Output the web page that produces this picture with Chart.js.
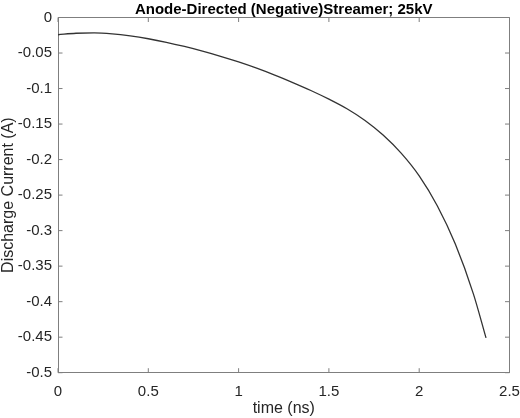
<!DOCTYPE html>
<html>
<head>
<meta charset="utf-8">
<script src="https://cdn.jsdelivr.net/npm/chart.js@4.4.1/dist/chart.umd.min.js"></script>
<style>
  html, body { margin: 0; padding: 0; background: #fff; }
  #wrap { width: 520px; height: 418px; }
</style>
</head>
<body>
<div id="wrap"><canvas id="my-chart" width="520" height="418"></canvas></div>
<script>
'use strict'
///data///
let timeNs = [0, 0.1, 0.2, 0.3, 0.4, 0.5, 0.6, 0.7, 0.8, 0.9, 1.0, 1.1, 1.2, 1.3, 1.4, 1.5, 1.6, 1.7, 1.8, 1.9, 2.0, 2.1, 2.2, 2.3, 2.37]
let currentA = [-0.0243, -0.0222, -0.0216, -0.0230, -0.0259, -0.0299, -0.0349, -0.0408, -0.0474, -0.0546, -0.0625, -0.0713, -0.0810, -0.0916, -0.1028, -0.1150, -0.1285, -0.1450, -0.1655, -0.1910, -0.2230, -0.2650, -0.3190, -0.3890, -0.4510]
let xTicks = [0, 0.5, 1, 1.5, 2, 2.5]
let yTicks = [0, -0.05, -0.1, -0.15, -0.2, -0.25, -0.3, -0.35, -0.4, -0.45, -0.5]
let titleText = 'Anode-Directed (Negative)Streamer; 25kV'

let axisColor = '#7f7f7f'
let textColor = '#262626'
let fontFam = '"Liberation Sans", Arial, Helvetica, sans-serif'

let points = []
for (let i = 0; i < timeNs.length; i++) {
  points.push({x: timeNs[i], y: currentA[i]})
}

//matlab style box + inward ticks + title centred over the axes
let boxPlugin = {
  id: 'box',
  afterDraw(chart) {
    let c = chart.ctx
    let a = chart.chartArea
    let xs = chart.scales.x
    let ys = chart.scales.y
    let len = 4.5
    c.save()
    c.strokeStyle = axisColor
    c.lineWidth = 1
    c.beginPath()
    c.moveTo(a.left, a.top); c.lineTo(a.right, a.top)
    c.moveTo(a.right, a.top); c.lineTo(a.right, a.bottom)
    for (let t of xTicks) {
      let px = xs.getPixelForValue(t)
      c.moveTo(px, a.bottom); c.lineTo(px, a.bottom - len)
      c.moveTo(px, a.top); c.lineTo(px, a.top + len)
    }
    for (let t of yTicks) {
      let py = ys.getPixelForValue(t)
      c.moveTo(a.left, py); c.lineTo(a.left + len, py)
      c.moveTo(a.right, py); c.lineTo(a.right - len, py)
    }
    c.stroke()
    //title
    c.fillStyle = '#000'
    c.font = 'bold 15px ' + fontFam
    c.textAlign = 'center'
    c.textBaseline = 'alphabetic'
    c.fillText(titleText, (a.left + a.right) / 2, 13.5)
    c.restore()
  }
}

function fmt(v) {
  return String(Number(v.toFixed(2)))
}

let ctx = document.getElementById('my-chart').getContext('2d')

let chartObject = {
  type: 'line',
  data: {
    datasets: [{
      data: points,
      borderColor: '#333333',
      borderWidth: 1.3,
      pointRadius: 0,
      fill: false,
      cubicInterpolationMode: 'monotone'
    }]
  },
  options: {
    responsive: false,
    animation: false,
    layout: { padding: { left: 0, right: 10.5, top: 17.5, bottom: 0 } },
    plugins: {
      legend: { display: false },
      tooltip: { enabled: false },
      title: { display: false }
    },
    scales: {
      x: {
        type: 'linear',
        min: 0,
        max: 2.5,
        afterBuildTicks: s => { s.ticks = xTicks.map(v => ({value: v})) },
        afterFit: s => { s.height = 45.3; s.paddingRight = 0; s.paddingLeft = 0 },
        grid: { display: false, drawTicks: false },
        border: { display: true, color: axisColor, width: 1 },
        ticks: {
          color: textColor,
          font: { family: fontFam, size: 15 },
          padding: 10.5,
          maxRotation: 0,
          callback: v => fmt(v)
        },
        title: {
          display: true,
          text: 'time (ns)',
          color: textColor,
          font: { family: fontFam, size: 16 },
          padding: { top: 0, bottom: 0 }
        }
      },
      y: {
        min: -0.5,
        max: 0,
        afterBuildTicks: s => { s.ticks = yTicks.slice().reverse().map(v => ({value: v})) },
        afterFit: s => { s.width = 58; s.paddingTop = 0; s.paddingBottom = 0 },
        grid: { display: false, drawTicks: false },
        border: { display: true, color: axisColor, width: 1 },
        ticks: {
          color: textColor,
          font: { family: fontFam, size: 15 },
          padding: 6,
          callback: v => fmt(v)
        },
        title: {
          display: true,
          text: 'Discharge Current (A)',
          color: textColor,
          font: { family: fontFam, size: 16 },
          padding: { top: -1, bottom: 0 }
        }
      }
    }
  },
  plugins: [boxPlugin]
}

const myChart = new Chart(ctx, chartObject)
</script>
</body>
</html>
